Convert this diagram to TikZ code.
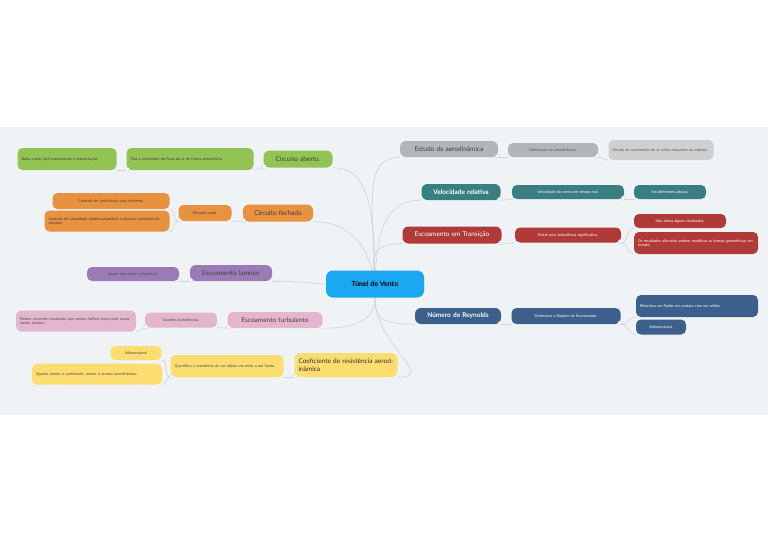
\documentclass[tikz,border=0pt]{standalone}
\usepackage{fontspec}
\setmainfont{Lato}
\usetikzlibrary{calc,backgrounds}
\begin{document}
\begin{tikzpicture}[x=1pt,y=-1pt,
 box/.style={rounded corners=5pt,inner sep=1pt,font=\fontsize{3.8}{4.6}\selectfont,align=left},
 main/.style={rounded corners=6pt,inner sep=1pt,font=\fontsize{6.5}{7.5}\selectfont,align=left},
 ln/.style={draw=black!18,line width=0.6pt},
 dot/.style={circle,draw=black!20,fill=white,inner sep=0pt,minimum size=4pt}]
\definecolor{bg}{HTML}{EFF3F6}
\definecolor{cgreen}{HTML}{93C353}
\definecolor{corange}{HTML}{E8913E}
\definecolor{cpurple}{HTML}{9B7BB5}
\definecolor{cpink}{HTML}{E4B5CF}
\definecolor{cyellow}{HTML}{FDDC70}
\definecolor{cgray}{HTML}{B3B5B7}
\definecolor{cgrayl}{HTML}{CDCFD1}
\definecolor{cteal}{HTML}{3A7F7F}
\definecolor{cred}{HTML}{B03A38}
\definecolor{cblue}{HTML}{3C5F8C}
\definecolor{ccyan}{HTML}{1BA8F2}
\useasboundingbox (0,0) rectangle (768,543);
\newcommand{\nd}[7]{\node[#1,fill=#2,text=#3,minimum width=#4pt,minimum height=#5pt,text width=#4pt-8pt] (#6) at #7}
% root
\node[rounded corners=7pt,fill=ccyan,minimum width=98pt,minimum height=27pt,font=\fontsize{7}{8}\selectfont\bfseries] (root) at (375,284) {Túnel de Vento};
% left
\nd{main}{cgreen}{black!75}{69}{17}{ca}{(298,159)} {\centering Circuito aberto.\par};
\nd{box}{cgreen}{black!75}{127}{22}{ca1}{(190,159)} {Fixa a velocidade do fluxo do ar de forma atmosférica.};
\nd{box}{cgreen}{black!75}{99}{22}{ca2}{(67,159)} {Baixo custo, fácil manutenção e manipulação.};
\nd{main}{corange}{black!75}{70}{17}{cf}{(278,213)} {\centering Circuito fechado\par};
\nd{box}{corange}{black!75}{53}{16}{cf1}{(205,213)} {\centering Elevado custo.\par};
\nd{box}{corange}{black!75}{117}{16}{cf2}{(111,201)} {\centering Controle de turbulência mais eficiente.\par};
\nd{box}{corange}{black!75}{125}{21}{cf3}{(107,221)} {Controle de velocidade relativa adaptável a diversas condições de estudos.};
\nd{main}{cpurple}{black!75}{82}{16}{el}{(231,273)} {\centering Escoamento laminar\par};
\nd{box}{cpurple}{black!70}{92}{14}{el1}{(133,274)} {\centering Quase não existe turbulência.\par};
\nd{main}{cpink}{black!75}{95}{16}{et}{(275,320)} {\centering Escoamento turbulento\par};
\nd{box}{cpink}{black!70}{72}{15}{et1}{(181,320)} {\centering Grandes turbulências.\par};
\nd{box}{cpink}{black!70}{120}{21}{et2}{(76,321)} {Podem esconder resultados que seriam melhor vistos pelo escoamento laminar.};
\nd{main}{cyellow}{black!80}{103}{24}{cr}{(346,365)} {Coeficiente de resistência aerodinâmica};
\nd{box}{cyellow}{black!70}{113}{22}{cr1}{(227,366)} {Quantifica a resistência de um objeto em meio a um fluido.};
\nd{box}{cyellow}{black!70}{51}{14}{cr2}{(136,353)} {\centering Adimensional\par};
\nd{box}{cyellow}{black!70}{130}{21}{cr3}{(97,374)} {Quanto menor o coeficiente, menor o arrasto aerodinâmico.};
% right
\nd{main}{cgray}{black!75}{98}{16}{ea}{(449,149)} {\centering Estudo da aerodinâmica\par};
\nd{box}{cgray}{black!65}{90}{14}{ea1}{(553,150)} {\centering Otimização da aerodinâmica.\par};
\nd{box}{cgrayl}{black!65}{105}{20}{ea2}{(661,150)} {Estudo do movimento do ar sobre maquetes ou objetos.};
\nd{main}{cteal}{white}{79}{16}{vr}{(461,192)} {\centering\bfseries Velocidade relativa\par};
\nd{box}{cteal}{white}{112}{14}{vr1}{(568,192)} {\centering Velocidade do vento em tempo real.\par};
\nd{box}{cteal}{white}{72}{14}{vr2}{(670,192)} {\centering Em diferentes alturas.\par};
\nd{main}{cred}{white}{99}{17}{tr}{(452,235)} {\centering Escoamento em Transição\par};
\nd{box}{cred}{white}{106}{15}{tr1}{(568,235)} {\centering Existe uma turbulência significativa.\par};
\nd{box}{cred}{white}{92}{14}{tr2}{(680,221)} {\centering Não altera alguns resultados.\par};
\nd{box}{cred}{white}{124}{22}{tr3}{(696,243)} {Os resultados alterados podem modificar as formas geométricas em estudo.};
\nd{main}{cblue}{white}{86}{16}{nr}{(458,316)} {\centering\bfseries Número de Reynolds\par};
\nd{box}{cblue}{white}{109}{16}{nr1}{(566,316)} {\centering Determina o Regime de Escoamento.\par};
\nd{box}{cblue}{white}{122}{22}{nr2}{(697,306)} {Relaciona um fluido em contato com um sólido.};
\nd{box}{cblue}{white}{50}{15}{nr3}{(661,327)} {\centering Adimensional.\par};
\begin{pgfonlayer}{background}
\fill[bg] (0,127) rectangle (768,415);
\foreach \c in {ca,cf,el,et,cr} {
 \draw[ln] (root.south) .. controls ($(root.south)!0.6!(root.south|-\c.south)$) and ($(\c.south east)+(40,0)$) .. (\c.south east);
}
\foreach \c in {ea,vr,tr,nr} {
 \draw[ln] (root.south) .. controls ($(root.south)!0.6!(root.south|-\c.south)$) and ($(\c.south west)+(-40,0)$) .. (\c.south west);
}
\foreach \p/\c in {ca/ca1,ca1/ca2,cf/cf1,cf1/cf2,cf1/cf3,el/el1,et/et1,et1/et2,cr/cr1,cr1/cr2,cr1/cr3} {
 \draw[ln] (\p.south west) to[out=180,in=0] (\c.south east);
}
\foreach \p/\c in {ea/ea1,ea1/ea2,vr/vr1,vr1/vr2,tr/tr1,tr1/tr2,tr1/tr3,nr/nr1,nr1/nr2,nr1/nr3} {
 \draw[ln] (\p.south east) to[out=0,in=180] (\c.south west);
}
\end{pgfonlayer}
\foreach \p in {ca,ca1,cf,cf1,el,et,et1,cr,cr1} \node[dot] at ($(\p.south west)+(1,-1)$) {};
\foreach \p in {ea,ea1,vr,vr1,tr,tr1,nr,nr1} \node[dot] at ($(\p.south east)+(-1,-1)$) {};
\end{tikzpicture}
\end{document}
